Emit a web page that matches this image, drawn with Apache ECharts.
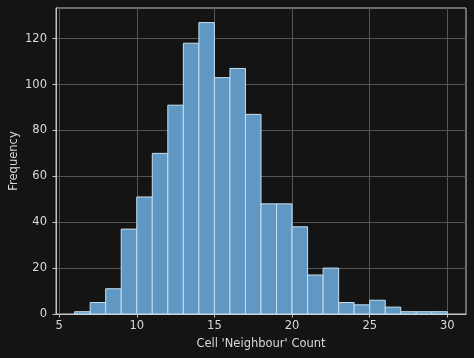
<!DOCTYPE html>
<html>
<head>
<meta charset="utf-8">
<script src="https://cdn.jsdelivr.net/npm/echarts@6/dist/echarts.min.js"></script>
<style>
html,body{margin:0;padding:0;background:#141414;}
#c{width:474px;height:358px;}
</style>
</head>
<body>
<div id="c"></div>
<script>
var binStarts = [6,7,8,9,10,11,12,13,14,15,16,17,18,19,20,21,22,23,24,25,26,27,28,29];
var counts = [1,5,11,37,51,70,91,118,127,103,107,87,48,48,38,17,20,5,4,6,3,1,1,1];
var binWidth = 1;
var xTicks = [5,10,15,20,25,30];
var yTicks = [0,20,40,60,80,100,120];

var data = binStarts.map(function(s,i){return [s, s+binWidth, counts[i]];});
var font = 'DejaVu Sans';
var textColor = '#d9d9d9';
var fs = 11.5;

var chart = echarts.init(document.getElementById('c'), null, {renderer:'canvas'});
chart.setOption({
  backgroundColor:'#141414',
  animation:false,
  grid:{left:56,right:8,top:8,bottom:44,containLabel:false,outerBoundsMode:'none',show:true,borderColor:'#c4c4c4',borderWidth:1,backgroundColor:'transparent'},
  xAxis:{
    type:'value',min:4.8,max:31.2,
    name:"Cell 'Neighbour' Count",nameLocation:'middle',nameGap:24,nameMoveOverlap:false,
    nameTextStyle:{color:textColor,fontFamily:font,fontSize:fs,verticalAlign:'top'},
    axisLine:{show:true,lineStyle:{color:'#c4c4c4',width:1}},
    axisTick:{show:true,length:3.5,customValues:xTicks,lineStyle:{color:'#c4c4c4'}},
    axisLabel:{customValues:xTicks,color:textColor,fontFamily:font,fontSize:fs,margin:6},
    splitLine:{show:true,lineStyle:{color:'#555555',width:1}}
  },
  yAxis:{
    type:'value',min:0,max:133.35,
    name:'Frequency',nameLocation:'middle',nameGap:36,nameRotate:90,nameMoveOverlap:false,
    nameTextStyle:{color:textColor,fontFamily:font,fontSize:fs,verticalAlign:'bottom'},
    axisLine:{show:true,lineStyle:{color:'#c4c4c4',width:1}},
    axisTick:{show:true,length:3.5,customValues:yTicks,lineStyle:{color:'#c4c4c4'}},
    axisLabel:{customValues:yTicks,color:textColor,fontFamily:font,fontSize:fs,margin:9},
    splitLine:{show:true,lineStyle:{color:'#555555',width:1}}
  },
  series:[{
    type:'custom',
    data:data,
    encode:{x:[0,1],y:2},
    renderItem:function(params,api){
      var p0 = api.coord([api.value(0),api.value(2)]);
      var p1 = api.coord([api.value(1),0]);
      return {
        type:'rect',
        shape:{x:p0[0],y:p0[1],width:p1[0]-p0[0],height:p1[1]-p0[1]},
        style:{fill:'#6098c3',stroke:'#c6dff0',lineWidth:1}
      };
    }
  }]
});
</script>
</body>
</html>
